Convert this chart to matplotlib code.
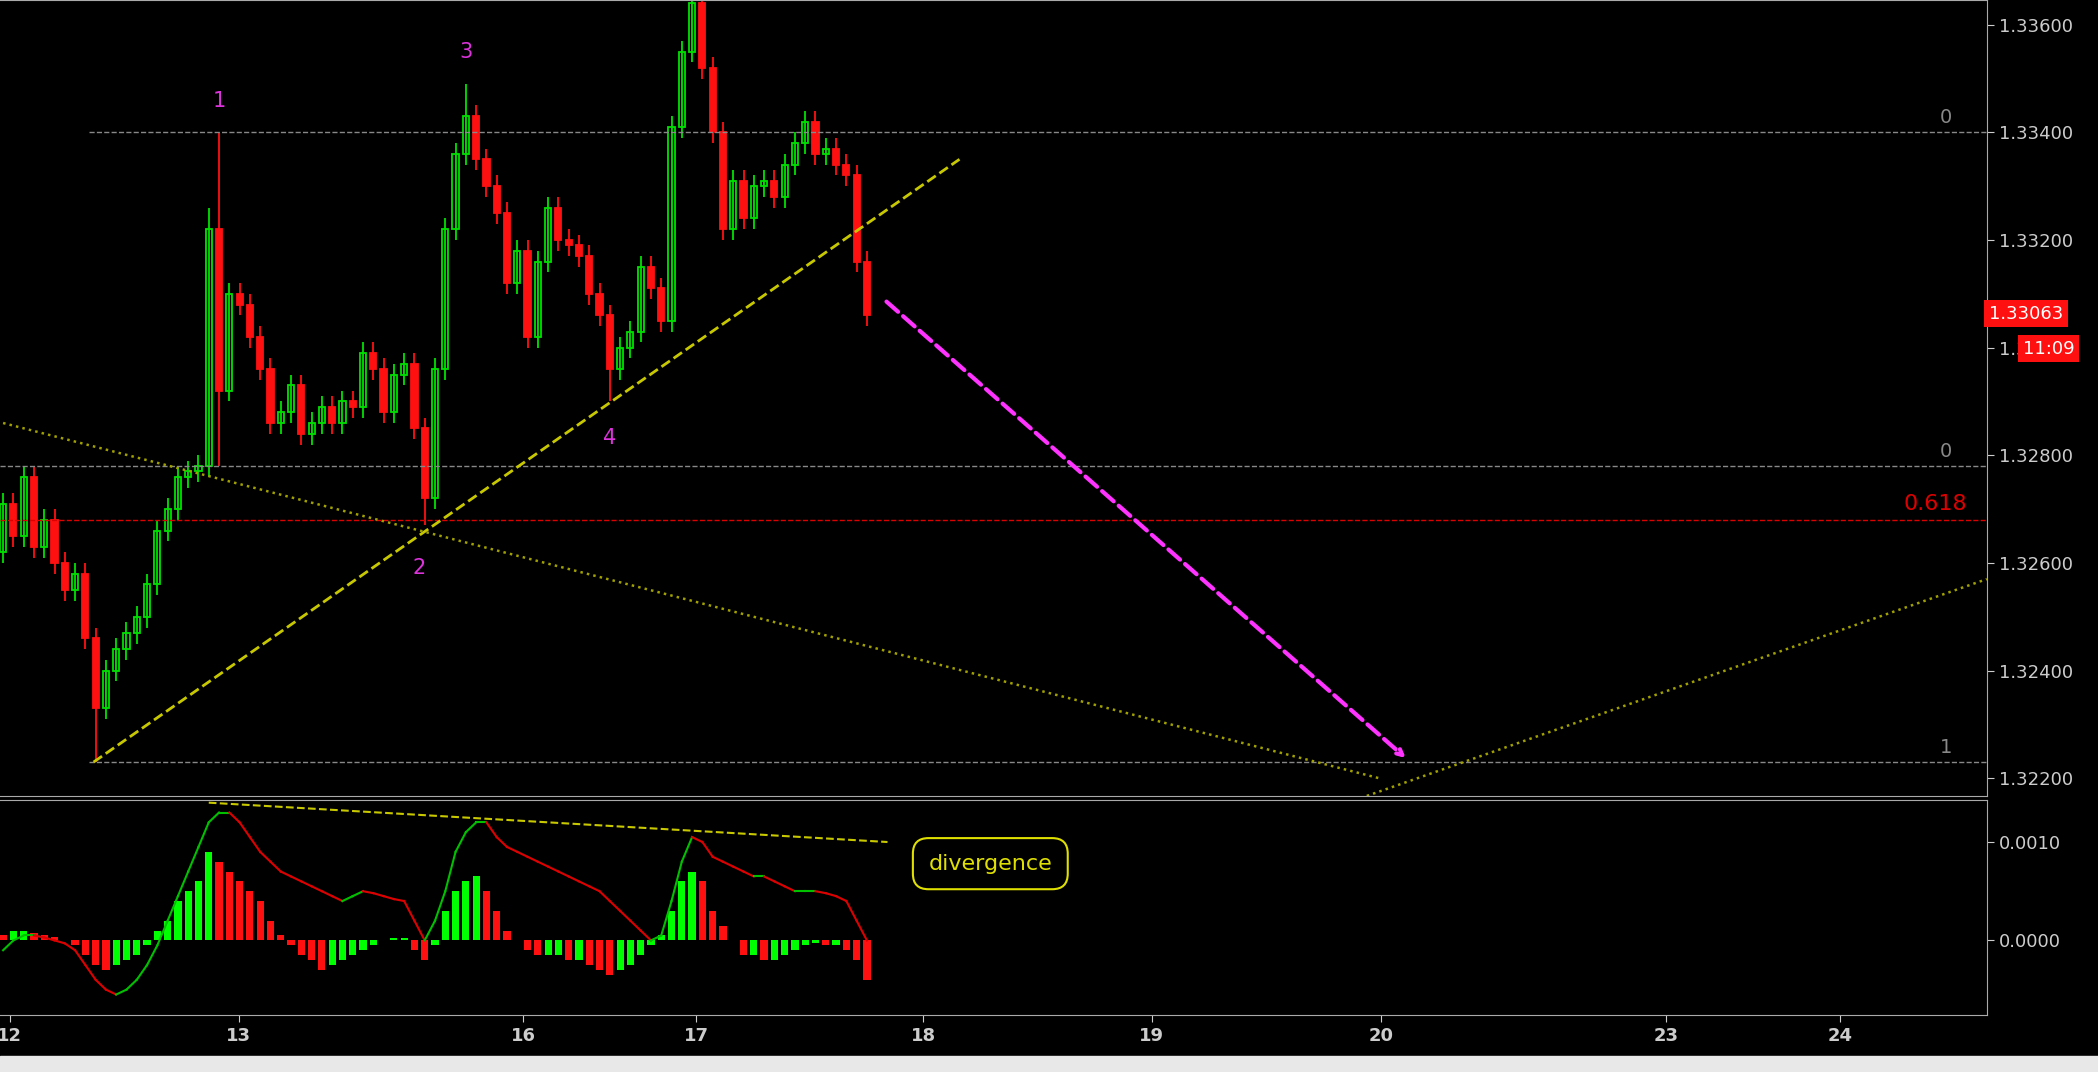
import numpy as np
import matplotlib.pyplot as plt
from matplotlib.patches import Rectangle

closes = [1.3271, 1.3265, 1.3276, 1.3263, 1.3268, 1.3260, 1.3255, 1.3258, 1.3246, 1.3233,
          1.3240, 1.3244, 1.3247, 1.3250, 1.3256, 1.3266, 1.3270, 1.3276, 1.3277, 1.3278,
          1.3322, 1.3292, 1.3310, 1.3308, 1.3302, 1.3296, 1.3286, 1.3288, 1.3293, 1.3284,
          1.3286, 1.3289, 1.3286, 1.3290, 1.3289, 1.3299, 1.3296, 1.3288, 1.3295, 1.3297,
          1.3285, 1.3272, 1.3296, 1.3322, 1.3336, 1.3343, 1.3335, 1.3330, 1.3325, 1.3312,
          1.3318, 1.3302, 1.3316, 1.3326, 1.3320, 1.3319, 1.3317, 1.3310, 1.3306, 1.3296,
          1.3300, 1.3303, 1.3315, 1.3311, 1.3305, 1.3341, 1.3355, 1.3364, 1.3352, 1.3340,
          1.3322, 1.3331, 1.3324, 1.3330, 1.3331, 1.3328, 1.3334, 1.3338, 1.3342, 1.3336,
          1.3337, 1.3334, 1.3332, 1.3316, 1.3306]
first_open = 1.3262
high_override = {21: 1.3340, 45: 1.3349, 67: 1.3368, 20: 1.3326}
low_override = {9: 1.3223, 41: 1.3267, 59: 1.3290, 21: 1.3278}

hist = [0.5, 1, 1, 0.8, 0.5, 0.3, 0, -0.5, -1.5, -2.5, -3, -2.5, -2, -1.5,
        -0.5, 1, 2, 4, 5, 6, 9, 8, 7, 6, 5, 4, 2, 0.5,
        -0.5, -1.5, -2, -3, -2.5, -2, -1.5, -1, -0.5, 0, 0.2, 0.2, -1, -2,
        -0.5, 3, 5, 6, 6.5, 5, 3, 1, 0,
        -1, -1.5, -1.5, -1.5, -2, -2, -2.5, -3, -3.5, -3, -2.5, -1.5, -0.5, 0.5,
        3, 6, 7, 6, 3, 1.5, 0, -1.5, -1.5, -2, -2, -1.5, -1, -0.5, -0.3, -0.5, -0.5, -1, -2, -4]
signal = [-1, 0, 0.5, 0.5, 0.3, 0, -0.3, -1, -2.5, -4, -5, -5.5, -5, -4,
          -2.5, -0.5, 2, 4.5, 7, 9.5, 12, 13, 13, 12, 10.5, 9, 8, 7,
          6.5, 6, 5.5, 5, 4.5, 4, 4.5, 5, 4.8, 4.5, 4.2, 4, 2, 0,
          2, 5, 9, 11, 12, 12, 10.5, 9.5, 9,
          8.5, 8, 7.5, 7, 6.5, 6, 5.5, 5, 4, 3, 2, 1, 0, 0.5,
          4, 8, 10.5, 10, 8.5, 8, 7.5, 7, 6.5, 6.5, 6, 5.5, 5, 5, 5, 4.8, 4.5, 4, 2, 0]

day_labels = ["12", "13", "16", "17", "18", "19", "20", "23", "24"]
day_pos = [0.65, 22.9, 50.6, 67.4, 89.5, 111.7, 134, 161.7, 178.6]
price_ticks = [1.3220, 1.3240, 1.3260, 1.3280, 1.3300, 1.3320, 1.3340, 1.3360]
macd_ticks = [0.0, 0.001]

fig = plt.figure(figsize=(20.98, 10.72), dpi=100, facecolor="black")
ax = fig.add_axes([0.0, 0.257, 0.947, 0.743], facecolor="black")
axm = fig.add_axes([0.0, 0.053, 0.947, 0.201], facecolor="black", sharex=ax)
fig.patches.append(Rectangle((0, 0), 1, 0.015, transform=fig.transFigure, color="#e8e8e8"))

opens = [first_open] + closes[:-1]
for i, (o, c) in enumerate(zip(opens, closes)):
    h = high_override.get(i, max(o, c) + 0.0002)
    l = low_override.get(i, min(o, c) - 0.0002)
    col = "#00e000" if c >= o else "#ff1010"
    ax.vlines(i, l, h, color=col, lw=1.3)
    ax.add_patch(Rectangle((i - 0.3, min(o, c)), 0.6, max(abs(c - o), 0.00004),
                           facecolor="black" if c >= o else col, edgecolor=col, lw=1.3))

for y in [1.3340, 1.3278, 1.3223]:
    ax.axhline(y, xmin=0.045 if y != 1.3278 else 0, color="#888888", ls="--", lw=1)
ax.axhline(1.3268, color="#dd0000", ls="--", lw=1)
ax.text(189.5, 1.3341, "0", color="#888888", fontsize=14, ha="right", va="bottom")
ax.text(189.5, 1.3279, "0", color="#888888", fontsize=14, ha="right", va="bottom")
ax.text(189.5, 1.3224, "1", color="#888888", fontsize=14, ha="right", va="bottom")
ax.text(191, 1.3269, "0.618", color="#dd0000", fontsize=16, ha="right", va="bottom")

ax.plot([8.8, 93], [1.3223, 1.3335], color="#c8c800", ls="--", lw=2)
ax.plot([0, 133.8], [1.3286, 1.3220], color="#a0a000", ls=":", lw=1.8)
ax.plot([132, 192.9], [1.32163, 1.3257], color="#a0a000", ls=":", lw=1.8)
ax.annotate("", xy=(136.6, 1.32234), xytext=(85.7, 1.33089),
            arrowprops=dict(arrowstyle="->", color="#ff33ff", lw=3, ls="--"))

for t, x, y in [("1", 21, 1.3344), ("2", 40.5, 1.3261), ("3", 45, 1.3353), ("4", 59, 1.3285)]:
    ax.text(x, y, t, color="#dd33dd", fontsize=15, ha="center", va="bottom" if t in "13" else "top")

ax.set_ylim(1.32166, 1.33646)
ax.set_xlim(-0.3, 192.9)
ax.yaxis.tick_right()
ax.set_yticks(price_ticks)
ax.set_yticklabels([f"{p:.5f}" for p in price_ticks])
ax.tick_params(axis="y", colors="#cccccc", labelsize=13, length=5)
ax.tick_params(axis="x", length=0, labelbottom=False)
ax.text(1.001, 1.33063, "1.33063", transform=ax.get_yaxis_transform(), color="white", fontsize=13,
        va="center", ha="left", zorder=10,
        bbox=dict(boxstyle="square,pad=0.25", fc="#ff1010", ec="none"))
ax.text(1.018, 1.32998, "11:09", transform=ax.get_yaxis_transform(), color="white", fontsize=13,
        va="center", ha="left", zorder=10,
        bbox=dict(boxstyle="square,pad=0.25", fc="#ff1010", ec="none"))
ax.spines["left"].set_visible(False)

x = np.arange(len(hist))
hv = np.array(hist) * 1e-4
sv = np.array(signal) * 1e-4
hcol = ["#00ff00" if i > 0 and hv[i] >= hv[i - 1] else "#ff1010" for i in x]
axm.bar(x, hv, width=0.7, color=hcol)
for i in range(1, len(sv)):
    axm.plot([i - 1, i], [sv[i - 1], sv[i]], color="#00c000" if sv[i] >= sv[i - 1] else "#dd0000", lw=1.5)
axm.plot([20, 86], [0.0014, 0.0010], color="#c8c800", ls="--", lw=1.5)
axm.text(96, 0.00078, "divergence", color="#e0e000", fontsize=16, ha="center", va="center",
         bbox=dict(boxstyle="round,pad=0.7", fc="black", ec="#e0e000", lw=1.5))
axm.set_ylim(-0.00076, 0.00143)
axm.yaxis.tick_right()
axm.set_yticks(macd_ticks)
axm.set_yticklabels([f"{m:.4f}" for m in macd_ticks])
axm.tick_params(axis="y", colors="#cccccc", labelsize=13, length=5)
axm.set_xticks(day_pos)
axm.set_xticklabels(day_labels)
axm.tick_params(axis="x", colors="#cccccc", labelsize=13, length=5)
axm.spines["left"].set_visible(False)
for label in axm.get_xticklabels():
    label.set_fontweight("bold")

for a in (ax, axm):
    for s in a.spines.values():
        s.set_color("#aaaaaa")

plt.savefig("out.png", dpi=100, facecolor="black")
